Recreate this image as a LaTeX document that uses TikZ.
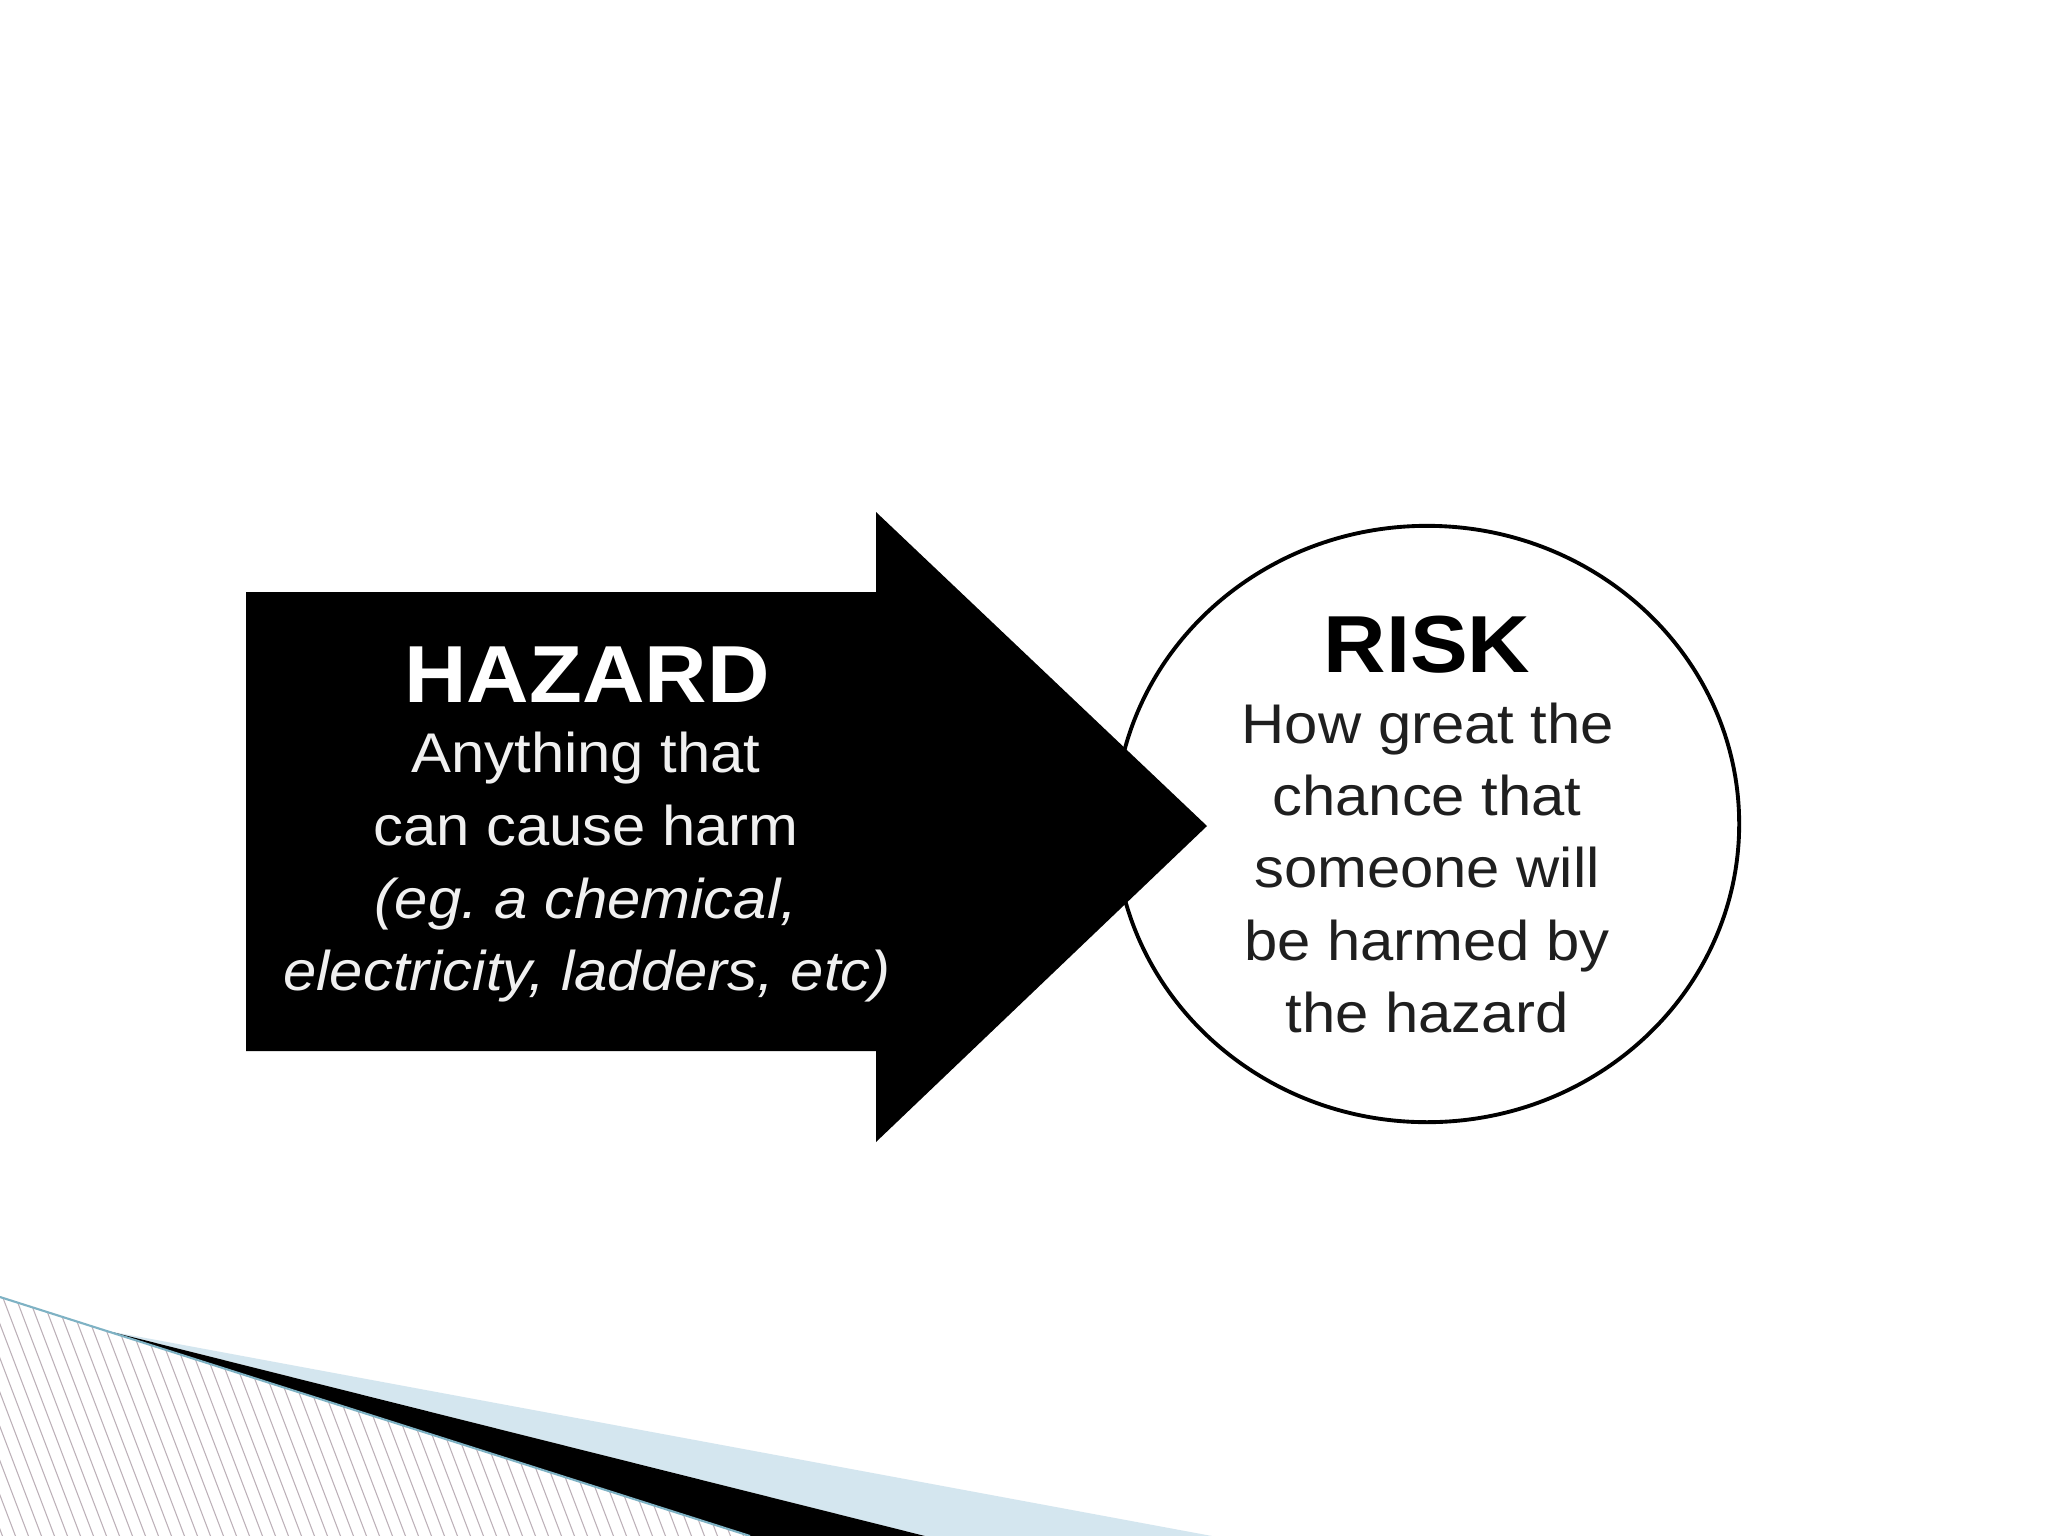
\documentclass[tikz,border=0pt]{standalone}
\usepackage{fontspec}
\setmainfont[FakeStretch=1.07]{Liberation Sans}
\usetikzlibrary{shapes.geometric}
\frenchspacing
\definecolor{lightblue}{HTML}{D4E6EF}
\definecolor{edgeblue}{HTML}{7EB2C4}
\definecolor{hatchgrey}{HTML}{BCB0B8}
\tikzset{
  titletext/.style={font=\bfseries\fontsize{23pt}{26pt}\selectfont, inner sep=0pt, anchor=base},
  bodytext/.style={font=\fontsize{15.9pt}{20pt}\selectfont, inner sep=0pt, anchor=base},
  hatchline/.style={draw=hatchgrey, line width=0.3pt},
}
\begin{document}
\begin{tikzpicture}[x=0.01cm,y=-0.01cm]
\useasboundingbox (0,0) rectangle (2048,1536);
\fill[white] (0,0) rectangle (2048,1536);

% bottom-left decoration
\fill[lightblue] (108,1331) -- (1212,1536) -- (925,1536) -- cycle;
\fill[black] (108,1331) -- (925,1536) -- (750,1536) -- cycle;
\begin{scope}
  \clip (0,1297) -- (750,1536) -- (0,1536) -- cycle;
  \foreach \i in {-10,...,60} \draw[hatchline] (\i*13,1290) -- ++(95,250);
\end{scope}
\draw[edgeblue, line width=0.6pt] (0,1297) -- (750,1536);

% risk circle
\node[ellipse, draw=black, line width=1.1pt, fill=white, inner sep=0pt,
      minimum width=6.24cm, minimum height=5.96cm] (riskc) at (1427,824) {};

% hazard arrow
\fill[black] (246,592) -- (876,592) -- (876,512) -- (1207,826) -- (876,1142)
  -- (876,1051) -- (246,1051) -- cycle;

% hazard text
\node[titletext, text=white] (hz) at (587,702) {HAZARD};
\node[bodytext, text=white!94!black] (hz1) at (586,772) {Anything that};
\node[bodytext, text=white!94!black] (hz2) at (586,845) {can cause harm};
\node[bodytext, text=white!94!black] (hz3) at (586,918) {\itshape (eg. a chemical,};
\node[bodytext, text=white!94!black] (hz4) at (587,990) {\itshape electricity, ladders, etc)};

% risk text
\node[titletext, text=black] (rk) at (1427,672) {RISK};
\node[bodytext, text=black!88] (rk1) at (1428,743) {How great the};
\node[bodytext, text=black!88] (rk2) at (1427,815) {chance that};
\node[bodytext, text=black!88] (rk3) at (1427,887) {someone will};
\node[bodytext, text=black!88] (rk4) at (1427,960) {be harmed by};
\node[bodytext, text=black!88] (rk5) at (1427,1032) {the hazard};
\end{tikzpicture}
\end{document}
